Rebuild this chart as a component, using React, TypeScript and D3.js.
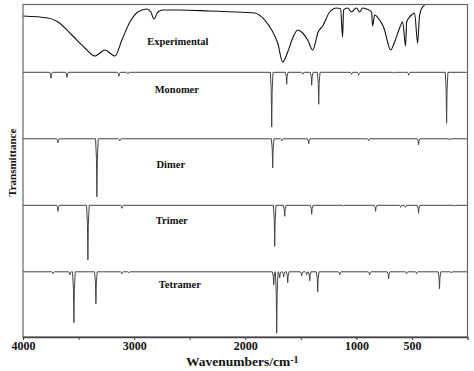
import React, { useRef, useEffect } from 'react';
import * as d3 from 'd3';

const panels = ['Experimental', 'Monomer', 'Dimer', 'Trimer', 'Tetramer'];

// experimental spectrum, [wavenumber, transmittance]
const experimental: [number, number][] = [
  [4000, 84.4], [3775, 81.3], [3685, 75.2], [3560, 55.2], [3443, 35.3],
  [3353, 23.0], [3263, 32.2], [3173, 23.0], [3110, 47.5], [3038, 75.2],
  [2966, 90.5], [2885, 95.1], [2849, 90.5], [2822, 79.8], [2786, 90.5],
  [2742, 93.6], [2589, 93.6], [2319, 92.0], [2076, 90.5], [1915, 89.0],
  [1825, 78.2], [1762, 62.9], [1708, 42.9], [1663, 13.8], [1618, 29.1],
  [1573, 50.6], [1528, 62.9], [1483, 58.3], [1438, 47.5], [1393, 32.2],
  [1357, 52.1], [1348, 58.3], [1303, 69.0], [1240, 90.5], [1178, 96.6],
  [1142, 95.1], [1124, 52.1], [1115, 93.6], [1079, 96.6], [1043, 90.5],
  [1016, 95.1], [998, 96.6], [971, 90.5], [944, 96.6], [908, 95.1],
  [863, 90.5], [854, 69.0], [836, 85.9], [791, 78.2], [746, 62.9],
  [719, 44.5], [692, 32.2], [656, 44.5], [611, 66.0], [584, 75.2],
  [557, 38.3], [548, 75.2], [503, 85.9], [476, 89.0], [449, 42.9],
  [431, 85.9], [404, 98.2], [386, 101],
];

// calculated spectra, [wavenumber, band depth]
const monomerPeaks: [number, number][] = [
  [3748, 9.2], [3604, 7.7], [3137, 6.1], [3056, 2.3], [1762, 84],
  [1627, 18.4], [1483, 3.1], [1402, 20], [1339, 49], [1043, 3.1],
  [980, 4.6], [665, 1.5], [530, 4.6], [188, 78],
];
const dimerPeaks: [number, number][] = [
  [3685, 6.1], [3335, 89], [3128, 3.1], [1753, 44.5], [1672, 3.1],
  [1429, 7.7], [890, 3.1], [440, 9.2], [162, 1.5],
];
const trimerPeaks: [number, number][] = [
  [3685, 9.2], [3416, 84], [3110, 4.6], [1735, 63], [1645, 16.9],
  [1402, 13.8], [1115, 1.5], [827, 9.2], [602, 3.1], [557, 3.1],
  [440, 12.3], [117, 1.5],
];
const tetramerPeaks: [number, number][] = [
  [3730, 3.1], [3578, 4.6], [3542, 78], [3344, 49], [3110, 3.1],
  [3047, 1.5], [1744, 20], [1717, 94], [1690, 9.2], [1654, 7.7],
  [1618, 16.9], [1492, 6.1], [1447, 4.6], [1420, 13.8], [1348, 30.7],
  [1150, 4.6], [881, 4.6], [710, 10.7], [548, 3.1], [458, 3.1],
  [252, 26], [144, 1.5],
];

const xTicks = [4000, 3500, 3000, 2500, 2000, 1500, 1000, 500];
const xLabels = [4000, 3000, 2000, 1000, 500];

// where each panel name sits, [wavenumber, transmittance]
const labelWn = [2607, 2616, 2670, 2661, 2589];
const labelT = [46, 74.4, 61.3, 77.5, 81.3];

const serif = "'Liberation Serif', 'Times New Roman', serif";

// turn a band list into a stick-like trace on a flat 100% baseline
const peaksToLine = (peaks: [number, number][]) => {
  const pts: [number, number][] = [[4000, 100]];
  [...peaks]
    .sort((a, b) => b[0] - a[0])
    .forEach(([wn, d]) => {
      pts.push([wn + 12, 100]);
      pts.push([wn + 4, 100 - d * 0.35]);
      pts.push([wn, 100 - d]);
      pts.push([wn - 4, 100 - d * 0.35]);
      pts.push([wn - 12, 100]);
    });
  pts.push([0, 100]);
  return pts;
};

const App = () => {
  const Svg = useRef<SVGSVGElement>(null);

  useEffect(() => {
    const width = 474;
    const height = 371;
    const left = 23;
    const right = 467.5;
    const top = 4.5;
    const bottom = 337;

    const svg = d3.select(Svg.current).attr('width', width).attr('height', height);
    svg.selectAll('*').remove();

    const x = d3.scaleLinear().domain([4000, 0]).range([left, right]);
    const band = d3.scaleBand().domain(panels).range([top, bottom]);
    const y = d3.scaleLinear().domain([0, 102]).range([band.bandwidth(), 0]);

    const line = d3
      .line<[number, number]>()
      .x((d) => x(d[0]))
      .y((d) => y(d[1]));

    const calc = [monomerPeaks, dimerPeaks, trimerPeaks, tetramerPeaks];

    // experimental
    svg
      .append('path')
      .attr('transform', `translate(0, ${band('Experimental')})`)
      .attr('d', line.curve(d3.curveMonotoneX)(experimental))
      .attr('fill', 'none')
      .attr('stroke', '#111')
      .attr('stroke-width', 1.1);

    line.curve(d3.curveLinear);
    calc.forEach((peaks, i) => {
      svg
        .append('path')
        .attr('transform', `translate(0, ${band(panels[i + 1])})`)
        .attr('d', line(peaksToLine(peaks)))
        .attr('fill', 'none')
        .attr('stroke', '#444')
        .attr('stroke-width', 1);
    });

    // panel names
    panels.forEach((p, i) => {
      svg
        .append('text')
        .attr('x', x(labelWn[i]))
        .attr('y', band(p) + y(labelT[i]))
        .attr('dy', '0.35em')
        .attr('text-anchor', 'middle')
        .attr('font-family', serif)
        .attr('font-weight', 'bold')
        .attr('font-size', 10.5)
        .attr('fill', '#111')
        .text(p);
    });

    // frame
    svg
      .append('rect')
      .attr('x', left)
      .attr('y', top)
      .attr('width', right - left)
      .attr('height', bottom - top)
      .attr('fill', 'none')
      .attr('stroke', '#666')
      .attr('stroke-width', 1.2);

    const xAxis = d3
      .axisBottom(x)
      .tickValues(xTicks)
      .tickSize(3)
      .tickPadding(1)
      .tickFormat((d) => (xLabels.includes(+d) ? String(d) : ''));

    const gx = svg.append('g').attr('transform', `translate(0, ${bottom})`).call(xAxis);
    gx.select('.domain').attr('stroke', '#444').attr('stroke-width', 1.3);
    gx.selectAll('.tick line').attr('stroke', '#444');
    gx.selectAll('.tick text')
      .attr('font-family', serif)
      .attr('font-weight', 'bold')
      .attr('font-size', 12)
      .attr('fill', '#111');

    // axis titles
    const xt = svg
      .append('text')
      .attr('x', (left + right) / 2 - 3)
      .attr('y', 366)
      .attr('text-anchor', 'middle')
      .attr('font-family', serif)
      .attr('font-weight', 'bold')
      .attr('font-size', 13.5)
      .attr('fill', '#111');
    xt.append('tspan').text('Wavenumbers/cm');
    xt.append('tspan').attr('font-size', 10).attr('dy', -3).text('-1');

    svg
      .append('text')
      .attr('transform', `translate(16, ${(top + bottom) / 2 - 8}) rotate(-90)`)
      .attr('text-anchor', 'middle')
      .attr('font-family', serif)
      .attr('font-weight', 'bold')
      .attr('font-size', 11)
      .attr('fill', '#111')
      .text('Transmittance');
  }, []);

  return <svg ref={Svg} style={{ position: 'absolute', left: 0, top: 0 }} />;
};

export default App;
